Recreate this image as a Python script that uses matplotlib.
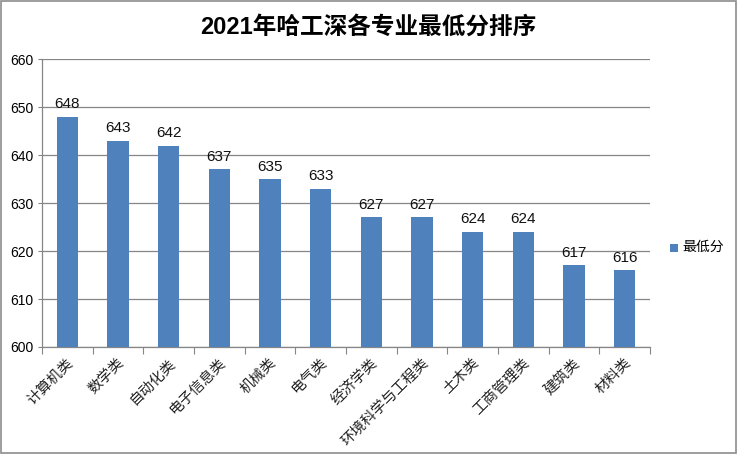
import matplotlib
matplotlib.use("Agg")
import matplotlib.pyplot as plt
from matplotlib.patches import Rectangle

plt.rcParams['font.family'] = ['Liberation Sans', 'Noto Sans CJK SC', 'DejaVu Sans']

categories = ["计算机类", "数学类", "自动化类", "电子信息类", "机械类", "电气类",
              "经济学类", "环境科学与工程类", "土木类", "工商管理类", "建筑类", "材料类"]
values = [648, 643, 642, 637, 635, 633, 627, 627, 624, 624, 617, 616]
yticks = [600, 610, 620, 630, 640, 650, 660]
title = "2021年哈工深各专业最低分排序"
series_name = "最低分"

bar_color = "#4F81BD"
grid_color = "#868686"

fig = plt.figure(figsize=(7.37, 4.54), dpi=100)
fig.patches.append(Rectangle((0.002, 0.003), 0.996, 0.994, transform=fig.transFigure,
                             fill=False, edgecolor="#8c8c8c", linewidth=1.2))

ax = fig.add_axes([0.057, 0.2357, 0.825, 0.634])
x = list(range(len(categories)))
bars = ax.bar(x, values, width=0.42, color=bar_color, zorder=3, label=series_name)
ax.set_xlim(-0.5, len(categories) - 0.5)
ax.set_ylim(600, 660)
ax.set_yticks(yticks)
ax.set_yticklabels([str(v) for v in yticks], fontsize=10)
ax.yaxis.grid(True, color=grid_color, linewidth=0.9, zorder=0)
for s in ["top", "right"]:
    ax.spines[s].set_visible(False)
for s in ["left", "bottom"]:
    ax.spines[s].set_color(grid_color)
    ax.spines[s].set_linewidth(0.9)
ax.tick_params(axis='y', length=3, color=grid_color, pad=3)

# x ticks between categories
ax.set_xticks([i - 0.5 for i in range(len(categories) + 1)])
ax.set_xticklabels([])
ax.tick_params(axis='x', length=5, color=grid_color, direction='out')

for i, (c, v) in enumerate(zip(categories, values)):
    ax.annotate(c, xy=(i, 600), xycoords='data', xytext=(3, -10), textcoords='offset points',
                rotation=45, ha='right', va='center', rotation_mode='anchor',
                fontsize=10.5, family=['Noto Sans CJK SC'], color="#222222")
    ax.annotate(str(v), xy=(i, v), xytext=(0, 4), textcoords='offset points',
                ha='center', va='bottom', fontsize=11, color="#111111")

fig.text(0.5, 0.94, title, ha='center', va='center', fontsize=17, fontweight='bold',
         family=['Liberation Sans', 'Noto Sans CJK SC'])

# legend
fig.patches.append(Rectangle((670 / 737, 1 - 252 / 454), 8 / 737, 8 / 454,
                             transform=fig.transFigure, facecolor=bar_color, edgecolor='none'))
fig.text(682 / 737, 1 - 247 / 454, series_name, ha='left', va='center', fontsize=10,
         family=['Noto Sans CJK SC'])

fig.savefig("out.png", dpi=100)
